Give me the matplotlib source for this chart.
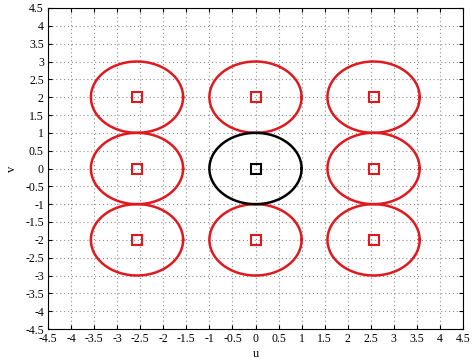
import numpy as np
import matplotlib
matplotlib.use("Agg")
import matplotlib.pyplot as plt

# Data
red_centers_u = [-2.57, 0.0, 2.56, -2.57, 2.56, -2.57, 0.0, 2.56]
red_centers_v = [2.0, 2.0, 2.0, 0.0, 0.0, -2.0, -2.0, -2.0]
black_center_u = [0.0]
black_center_v = [0.0]
radius = 1.0
ticks = np.arange(-4.5, 4.51, 0.5)
tick_labels = ["%g" % t for t in ticks]

plt.rcParams['font.family'] = ['Liberation Serif', 'DejaVu Serif']
fig = plt.figure(figsize=(4.74, 3.59), dpi=100)
ax = fig.add_axes([48/474, 1-329/359, (463-48)/474, (329-8)/359])

theta = np.linspace(0, 2*np.pi, 400)
for cu, cv in zip(red_centers_u, red_centers_v):
    ax.plot(cu + radius*np.cos(theta), cv + radius*np.sin(theta), color='#e0191e', lw=1.8, zorder=3)
    ax.plot([cu], [cv], marker='s', ms=7.5, mfc='none', mec='#e0191e', mew=1.5, zorder=4)
for cu, cv in zip(black_center_u, black_center_v):
    ax.plot(cu + radius*np.cos(theta), cv + radius*np.sin(theta), color='black', lw=1.8, zorder=3)
    ax.plot([cu], [cv], marker='s', ms=7.5, mfc='none', mec='black', mew=1.5, zorder=4)

ax.set_xlim(-4.5, 4.5)
ax.set_ylim(-4.5, 4.5)
ax.set_xticks(ticks)
ax.set_yticks(ticks)
ax.set_xticklabels(tick_labels)
ax.set_yticklabels(tick_labels)
ax.tick_params(direction='in', top=True, right=True, labelsize=8.5, length=3, pad=3)
ax.grid(True, linestyle=(0, (1, 2.5)), color='0.55', lw=0.8)
for s in ax.spines.values():
    s.set_linewidth(0.8)
ax.set_xlabel('u', fontsize=9, labelpad=2)
ax.set_ylabel('v', fontsize=9, labelpad=5)

fig.savefig('out.png', dpi=100)
